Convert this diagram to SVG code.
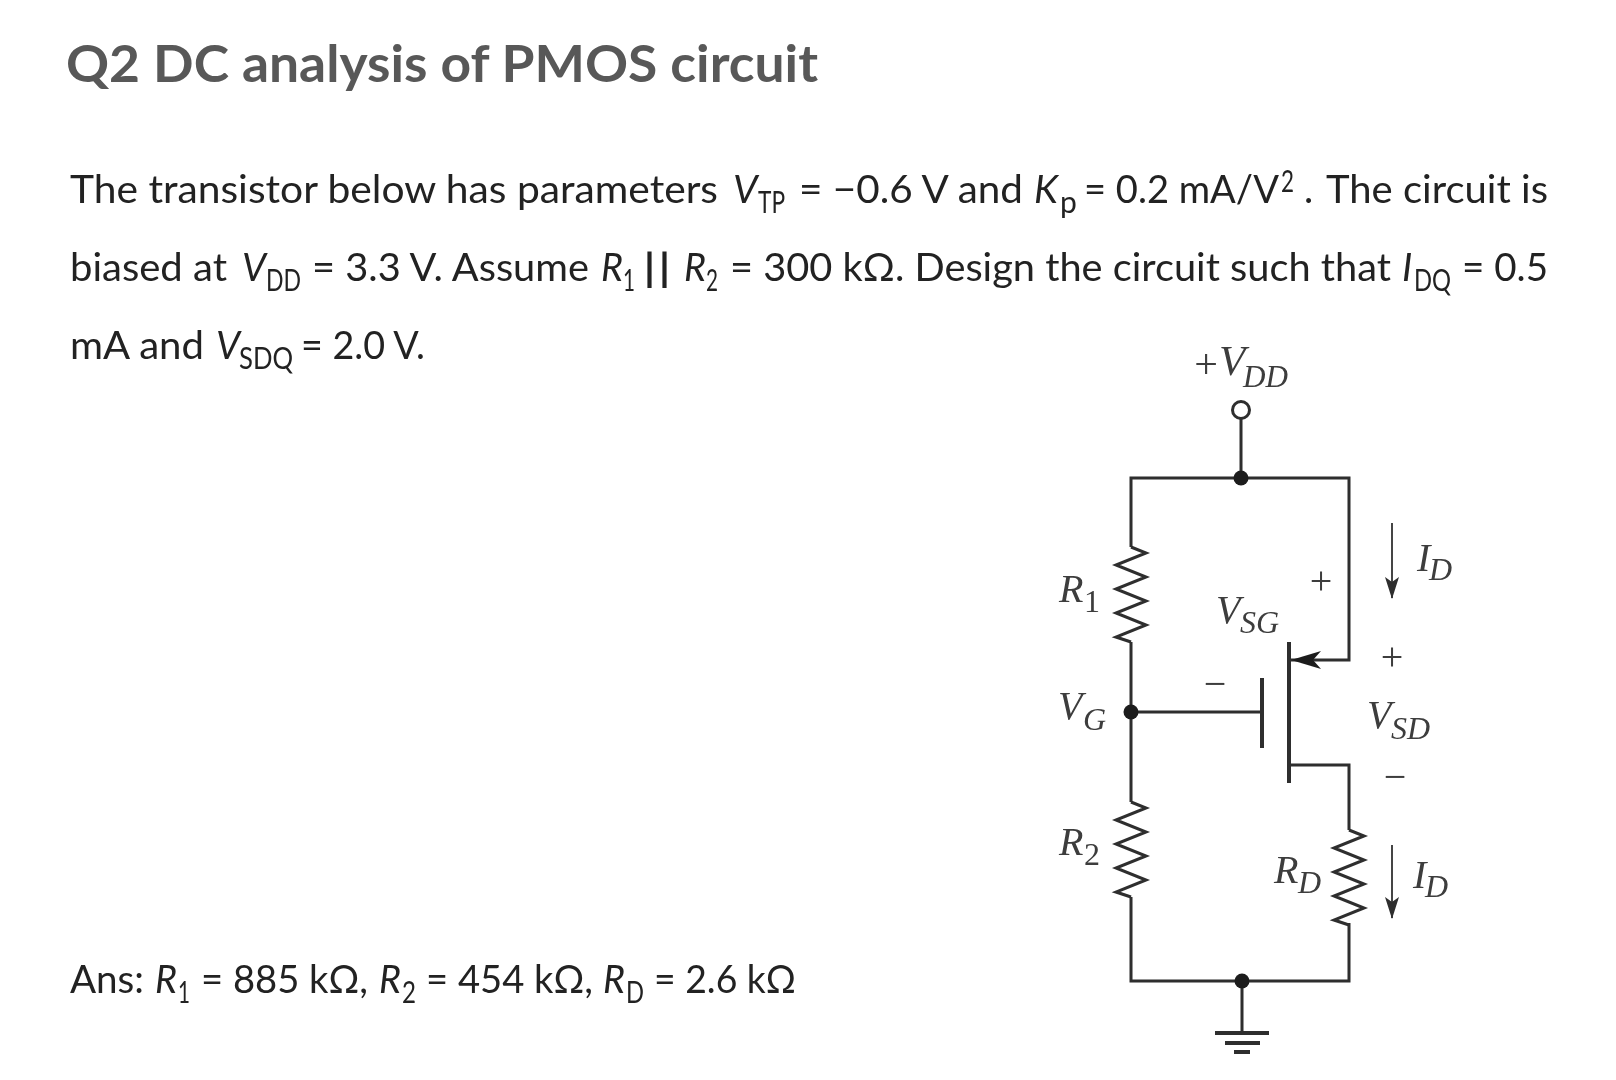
<svg xmlns="http://www.w3.org/2000/svg" width="1616" height="1080" viewBox="0 0 1616 1080">
<defs>
<filter id="soft" x="-2%" y="-2%" width="104%" height="104%"><feGaussianBlur stdDeviation="0.6"/></filter>
<marker id="head" viewBox="0 0 22 16" markerUnits="userSpaceOnUse" markerWidth="22" markerHeight="16" refX="21" refY="8" orient="auto"><path d="M22,8 L0,1 L5,8 L0,15Z" fill="#2e2e2e"/></marker>
</defs>
<style>
.t{font-family:Lato,"Liberation Sans",sans-serif;font-size:39px;fill:#222}
.i{font-style:italic}
.s{font-size:30px}
.h{font-family:Lato,"Liberation Sans",sans-serif;font-size:52px;font-weight:700;fill:#595959}
.c{font-family:"Liberation Serif",serif;font-style:italic;font-size:40px;fill:#3c3c3c}
.cs{font-family:"Liberation Serif",serif;font-style:italic;font-size:32px;fill:#3c3c3c}
.cn{font-family:"Liberation Serif",serif;font-size:32px;fill:#3c3c3c}
.p{font-family:"Liberation Serif",serif;font-size:40px;fill:#3c3c3c;text-anchor:middle}
.w{fill:none;stroke:#2e2e2e;stroke-width:3;stroke-linejoin:miter}
.thick{fill:none;stroke:#2e2e2e;stroke-width:4}
.dot{fill:#1e1e1e}
.a{fill:none;stroke:#444;stroke-width:2;marker-end:url(#head)}
</style>
<rect width="1616" height="1080" fill="#ffffff"/>
<g filter="url(#soft)">
<g id="problem-text">
<text class="h" x="66" y="82" textLength="752" lengthAdjust="spacingAndGlyphs">Q2 DC analysis of PMOS circuit</text>

<text class="t" x="70" y="203" textLength="648" lengthAdjust="spacingAndGlyphs">The transistor below has parameters</text>
<text class="t i" x="733" y="203">V</text><text class="t s" x="758" y="213" textLength="27" lengthAdjust="spacingAndGlyphs">TP</text>
<text class="t" x="799" y="203" textLength="224" lengthAdjust="spacingAndGlyphs">= −0.6 V and</text>
<text class="t i" x="1034" y="203" textLength="24" lengthAdjust="spacingAndGlyphs">K</text><text class="t s" x="1060" y="213">p</text>
<text class="t" x="1084" y="203" textLength="195" lengthAdjust="spacingAndGlyphs">= 0.2 mA/V</text><text class="t s" x="1281" y="192" textLength="13" lengthAdjust="spacingAndGlyphs">2</text>
<text class="t" x="1304" y="203">.</text>
<text class="t" x="1326" y="203" textLength="222" lengthAdjust="spacingAndGlyphs">The circuit is</text>

<text class="t" x="70" y="281" textLength="157" lengthAdjust="spacingAndGlyphs">biased at</text>
<text class="t i" x="242" y="281" textLength="24" lengthAdjust="spacingAndGlyphs">V</text><text class="t s" x="266" y="291" textLength="35" lengthAdjust="spacingAndGlyphs">DD</text>
<text class="t" x="312" y="281" textLength="277" lengthAdjust="spacingAndGlyphs">= 3.3 V. Assume</text>
<text class="t i" x="601" y="281" textLength="22" lengthAdjust="spacingAndGlyphs">R</text><text class="t s" x="623" y="291" textLength="12" lengthAdjust="spacingAndGlyphs">1</text>
<text class="t" x="642" y="281" textLength="30" lengthAdjust="spacingAndGlyphs">||</text>
<text class="t i" x="684" y="281" textLength="22" lengthAdjust="spacingAndGlyphs">R</text><text class="t s" x="706" y="291" textLength="12" lengthAdjust="spacingAndGlyphs">2</text>
<text class="t" x="730" y="281" textLength="661" lengthAdjust="spacingAndGlyphs">= 300 kΩ. Design the circuit such that</text>
<text class="t i" x="1402" y="281">I</text><text class="t s" x="1414" y="291" textLength="37" lengthAdjust="spacingAndGlyphs">DQ</text>
<text class="t" x="1462" y="281" textLength="86" lengthAdjust="spacingAndGlyphs">= 0.5</text>

<text class="t" x="70" y="359" textLength="134" lengthAdjust="spacingAndGlyphs">mA and</text>
<text class="t i" x="216" y="359" textLength="24" lengthAdjust="spacingAndGlyphs">V</text><text class="t s" x="239" y="369" textLength="54" lengthAdjust="spacingAndGlyphs">SDQ</text>
<text class="t" x="301" y="359" textLength="124" lengthAdjust="spacingAndGlyphs">= 2.0 V.</text>

<text class="t" x="70" y="993" textLength="74" lengthAdjust="spacingAndGlyphs">Ans:</text>
<text class="t i" x="155" y="993" textLength="22" lengthAdjust="spacingAndGlyphs">R</text><text class="t s" x="178" y="1003" textLength="12" lengthAdjust="spacingAndGlyphs">1</text>
<text class="t" x="201" y="993" textLength="167" lengthAdjust="spacingAndGlyphs">= 885 kΩ,</text>
<text class="t i" x="379" y="993" textLength="22" lengthAdjust="spacingAndGlyphs">R</text><text class="t s" x="402" y="1003" textLength="14" lengthAdjust="spacingAndGlyphs">2</text>
<text class="t" x="426" y="993" textLength="167" lengthAdjust="spacingAndGlyphs">= 454 kΩ,</text>
<text class="t i" x="603" y="993" textLength="22" lengthAdjust="spacingAndGlyphs">R</text><text class="t s" x="626" y="1003" textLength="18" lengthAdjust="spacingAndGlyphs">D</text>
<text class="t" x="654" y="993" textLength="142" lengthAdjust="spacingAndGlyphs">= 2.6 kΩ</text>
</g>

<g id="connectors">
<path class="w" d="M1241,419V478"/>
<path class="w" d="M1131,547V478H1349V660H1290"/>
<path class="w" d="M1131,642V802"/>
<path class="w" d="M1131,712H1262"/>
<path class="w" d="M1289,765H1349V830"/>
<path class="w" d="M1131,897V981H1349V923"/>
<path class="w" d="M1242,981V1033"/>
</g>

<g id="vdd">
<circle cx="1241" cy="410" r="8.5" fill="#fff" stroke="#2e2e2e" stroke-width="3"/>
<circle class="dot" cx="1241" cy="478" r="7.5"/>
<text class="p" x="1206" y="378" style="font-size:42px">+</text>
<text class="c" x="1219" y="375" style="font-size:43px">V</text>
<text class="cs" x="1243" y="387" textLength="45" lengthAdjust="spacingAndGlyphs">DD</text>
</g>

<g id="r1">
<polyline class="w" points="1131,547 1146,553 1116,565 1146,577 1116,589 1146,601 1116,613 1146,625 1116,637 1131,642"/>
<text class="c" x="1059" y="602">R</text><text class="cn" x="1084" y="612">1</text>
</g>

<g id="vg">
<circle class="dot" cx="1131" cy="712" r="7.5"/>
<text class="c" x="1058" y="719">V</text><text class="cs" x="1083" y="730">G</text>
</g>

<g id="r2">
<polyline class="w" points="1131,802 1146,808 1116,820 1146,832 1116,844 1146,856 1116,868 1146,880 1116,892 1131,897"/>
<text class="c" x="1059" y="855">R</text><text class="cn" x="1084" y="865">2</text>
</g>

<g id="rd">
<polyline class="w" points="1349,830 1364,836 1334,848 1364,860 1334,872 1364,884 1334,896 1364,908 1334,920 1349,925"/>
<text class="c" x="1274" y="883">R</text><text class="cs" x="1298" y="893">D</text>
</g>

<g id="pmos">
<path class="thick" d="M1289,642V783"/>
<path class="thick" d="M1262,678V748"/>
<path d="M1291,660L1321,651L1313,660L1321,669Z" fill="#1e1e1e"/>
<text class="c" x="1216" y="623">V</text><text class="cs" x="1240" y="633">SG</text>
<text class="p" x="1321" y="594">+</text>
<text class="p" x="1215" y="697">−</text>
<text class="c" x="1367" y="728">V</text><text class="cs" x="1391" y="739">SD</text>
<text class="p" x="1392" y="670">+</text>
<text class="p" x="1395" y="790">−</text>
</g>

<g id="id-top">
<path class="a" d="M1392,523V598"/>
<text class="c" x="1417" y="571">I</text><text class="cs" x="1429" y="580">D</text>
</g>

<g id="id-bottom">
<path class="a" d="M1392,845V918"/>
<text class="c" x="1413" y="888">I</text><text class="cs" x="1425" y="897">D</text>
</g>

<g id="ground">
<circle class="dot" cx="1242" cy="981" r="7.5"/>
<path class="w" style="stroke-width:4" d="M1215,1033H1269M1225,1043H1260M1234,1052H1250"/>
</g>
</g>
</svg>
